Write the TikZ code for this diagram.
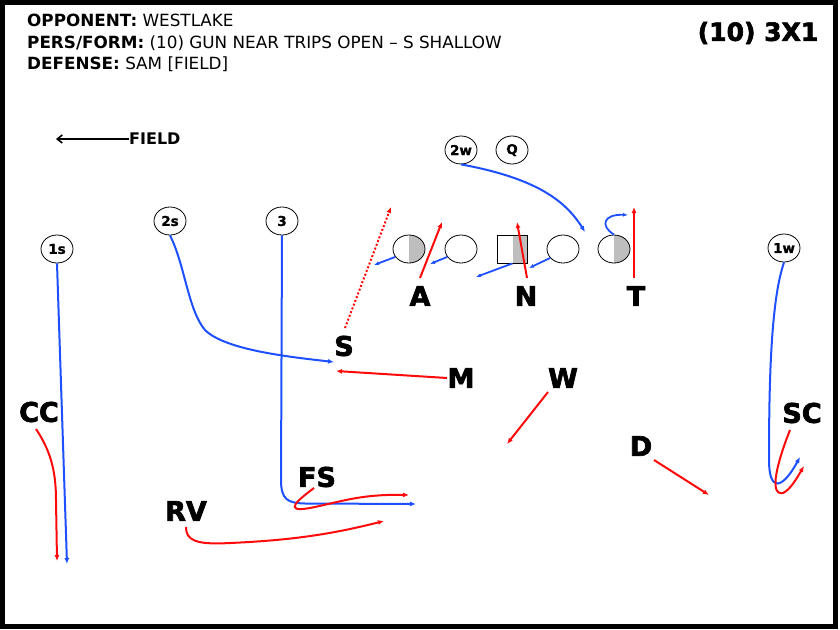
\documentclass[tikz,border=0pt]{standalone}
\usepackage{fontspec}
\setmainfont{DejaVu Sans}
\newfontfamily\heavyfont[FakeBold=2.5]{DejaVu Sans Bold}
\newfontfamily\recfont[FakeBold=1.2]{DejaVu Sans Bold}
\usetikzlibrary{arrows.meta,shapes.geometric}
\definecolor{rblue}{RGB}{30,80,255}
\definecolor{rred}{RGB}{255,10,10}
\definecolor{shadegray}{RGB}{190,190,190}
\begin{document}
\begin{tikzpicture}[x=1pt,y=-1pt,
  rec/.style={draw,ellipse,minimum width=32pt,minimum height=28pt,inner sep=0pt,line width=0.8pt,font=\recfont\fontsize{13.5}{15}\selectfont},
  olman/.style={draw,ellipse,minimum width=32pt,minimum height=28pt,inner sep=0pt,line width=0.8pt},
  halfshade/.style={path picture={\fill[shadegray] (path picture bounding box.north) rectangle (path picture bounding box.south east);}},
  ctrbox/.style={draw,rectangle,minimum width=30pt,minimum height=28pt,inner sep=0pt,line width=0.8pt},
  deflab/.style={font=\heavyfont\fontsize{27}{30}\selectfont,inner sep=0pt},
  hdr/.style={anchor=base west,inner sep=0pt,font=\fontsize{16.8}{19}\selectfont},
  broute/.style={draw=rblue,line width=2pt,-{Latex[length=6pt,width=5pt]}},
  rroute/.style={draw=rred,line width=2pt,-{Latex[length=6pt,width=5pt]}},
]
\useasboundingbox (0,0) rectangle (840,629);
\draw[line width=5pt] (2.5,2.5) rectangle (835,626.5);

% header
\node[hdr] (h1) at (27,26) {\textbf{OPPONENT:} WESTLAKE};
\node[hdr] (h2) at (27,48) {\textbf{PERS/FORM:} (10) GUN NEAR TRIPS OPEN – S SHALLOW};
\node[hdr] (h3) at (27,69) {\textbf{DEFENSE:} SAM [FIELD]};
\node[font=\heavyfont\fontsize{25}{28}\selectfont,inner sep=0pt] (title) at (758,33) {(10) 3X1};

% field arrow
\node[font=\bfseries\fontsize{16}{18}\selectfont,inner sep=0pt,anchor=west] (field) at (129,139) {FIELD};
\coordinate (fieldend) at (56,139);
\draw[line width=1.6pt,-{Straight Barb[length=5pt,width=8pt]}] (field.west) -- (fieldend);

% receivers
\node[rec] (r1s) at (57,249) {1s};
\node[rec] (r2s) at (170,221) {2s};
\node[rec] (r3) at (282,221) {3};
\node[rec] (r2w) at (461,150) {2w};
\node[rec] (rq) at (512,150) {Q};
\node[rec] (r1w) at (784,248) {1w};

% line
\node[olman,halfshade] (lt) at (409,249) {};
\node[olman] (lg) at (461,249) {};
\node[ctrbox,halfshade] (ctr) at (512.5,249) {};
\node[olman] (rg) at (563,249) {};
\node[olman,halfshade] (rt) at (614,249) {};

% defenders
\node[deflab] (dA) at (420,296) {A};
\node[deflab] (dN) at (526,296) {N};
\node[deflab] (dT) at (636,296) {T};
\node[deflab] (dS) at (344,346) {S};
\node[deflab] (dM) at (461,378) {M};
\node[deflab] (dW) at (563,378) {W};
\node[deflab] (dCC) at (39,412) {CC};
\node[deflab] (dSC) at (802,413) {SC};
\node[deflab] (dD) at (641,446) {D};
\node[deflab] (dFS) at (317,477) {FS};
\node[deflab] (dRV) at (186,511) {RV};

% route end coordinates
\coordinate (e1s) at (67,564);
\coordinate (e2s) at (334,362);
\coordinate (e3) at (416,504);
\coordinate (e2w) at (585,232);
\coordinate (elt) at (374,265);
\coordinate (elg) at (430,264);
\coordinate (ectr) at (476,277);
\coordinate (erg) at (529,268);
\coordinate (ert) at (628,215);
\coordinate (e1w) at (800,457);

\coordinate (sA) at (420,278);
\coordinate (eA) at (442,222);
\coordinate (sN) at (527,278);
\coordinate (eN) at (517,222);
\coordinate (sT) at (634,278);
\coordinate (eT) at (634,207);
\coordinate (sS) at (345,328);
\coordinate (eS) at (391,207);
\coordinate (sM) at (447,378);
\coordinate (eM) at (336,371);
\coordinate (sW) at (548,392);
\coordinate (eW) at (507,444);
\coordinate (sCC) at (36,429);
\coordinate (eCC) at (57,561);
\coordinate (sSC) at (790,430);
\coordinate (eSC) at (804,466);
\coordinate (sD) at (654,460);
\coordinate (eD) at (709,495);
\coordinate (sFS) at (314,488);
\coordinate (eFS) at (409,495);
\coordinate (sRV) at (186,527);
\coordinate (eRV) at (384,521);

% blue routes
\draw[broute] (r1s.south) -- (e1s);
\draw[broute] (r2s.south) .. controls (185,265) and (188,310) .. (205,330) .. controls (225,350) and (290,357) .. (e2s);
\draw[broute] (r3.south) -- (281,480) .. controls (281,500) and (288,503) .. (305,503.5) -- (e3);
\draw[broute] (r2w.south) .. controls (535,178) and (565,200) .. (e2w);
\draw[broute,line width=1.8pt,-{Latex[length=5pt,width=4pt]}] (lt.-150) -- (elt);
\draw[broute,line width=1.8pt,-{Latex[length=5pt,width=4pt]}] (lg.-150) -- (elg);
\draw[broute,line width=1.8pt,-{Latex[length=5pt,width=4pt]}] (ctr.south) -- (ectr);
\draw[broute,line width=1.8pt,-{Latex[length=5pt,width=4pt]}] (rg.-145) -- (erg);
\draw[broute,line width=1.8pt,-{Latex[length=5pt,width=4pt]}] (rt.north) .. controls (600,226) and (603,214) .. (ert);
\draw[broute] (r1w.south) .. controls (771,300) and (769,380) .. (769,460) .. controls (769,492) and (782,490) .. (e1w);

% red routes
\draw[rroute] (sA) -- (eA);
\draw[rroute] (sN) -- (eN);
\draw[rroute] (sT) -- (eT);
\draw[rroute,dotted,line width=2pt] (sS) -- (eS);
\draw[rroute] (sM) -- (eM);
\draw[rroute] (sW) -- (eW);
\draw[rroute] (sCC) .. controls (50,450) and (56,470) .. (56,500) -- (eCC);
\draw[rroute] (sSC) .. controls (778,460) and (768,496) .. (783,493) .. controls (790,490) and (797,478) .. (eSC);
\draw[rroute] (sD) -- (eD);
\draw[rroute] (sFS) .. controls (298,500) and (282,513) .. (310,508) .. controls (340,502) and (360,494) .. (eFS);
\draw[rroute] (sRV) .. controls (186,540) and (195,545) .. (230,543) .. controls (300,540) and (340,532) .. (eRV);
\end{tikzpicture}
\end{document}
